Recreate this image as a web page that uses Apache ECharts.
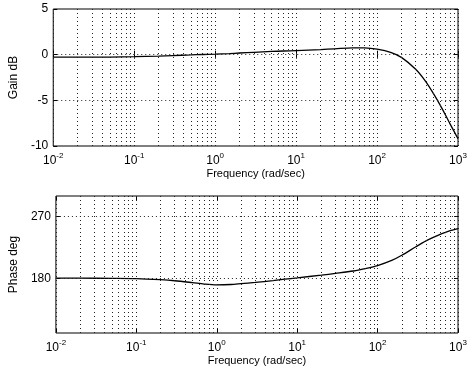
<!DOCTYPE html>
<html>
<head>
<meta charset="utf-8">
<script src="https://cdn.jsdelivr.net/npm/echarts@6/dist/echarts.min.js"></script>
<style>
html,body{margin:0;padding:0;background:#fff;}
#chart{width:474px;height:371px;}
</style>
</head>
<body>
<div id="chart"></div>
<script>
// ---- data ----
const freq = [0.01, 0.02, 0.05, 0.1, 0.2, 0.3, 0.5, 0.7, 1, 1.5, 2, 3, 5, 7, 10, 20, 30, 50, 70, 100, 150, 200, 300, 400, 500, 600, 700, 800, 1000];
const gainDb = [-0.28, -0.28, -0.26, -0.22, -0.16, -0.1, -0.03, 0.02, 0.06, 0.12, 0.18, 0.26, 0.35, 0.4, 0.45, 0.56, 0.64, 0.75, 0.74, 0.6, 0.22, -0.3, -1.6, -2.95, -4.3, -5.5, -6.6, -7.6, -9.2];
const phaseDeg = [180, 180, 179.8, 179.4, 177.8, 176.3, 173.5, 171.5, 170.3, 170.8, 172, 173.8, 176.5, 178.5, 180.5, 184.5, 187, 190.5, 194, 198.5, 206, 213.5, 226, 234.5, 240, 244, 247, 249.5, 252.5];
const decades = [0.01, 0.1, 1, 10, 100, 1000];
const gainTicks = [-10, -5, 0, 5];
const phaseTicks = [180, 270];
const xAxisName = 'Frequency (rad/sec)';
const gainName = 'Gain dB';
const phaseName = 'Phase deg';

// ---- chart ----
const FONT = '"Liberation Sans", Arial, sans-serif';
const dotted = {color: '#222', width: 1, type: [1, 3]};

const vGrid = [];
decades.slice(0, -1).forEach(d => { for (let m = 1; m <= 9; m++) vGrid.push(d * m); });
vGrid.push(decades[decades.length - 1]);

function expLabel(v) {
  const e = Math.round(Math.log10(v));
  return '{b|10}{s|' + e + '}';
}
const richX = {
  b: {fontSize: 12, fontFamily: FONT, color: '#000'},
  s: {fontSize: 8, fontFamily: FONT, color: '#000', padding: [0, 0, 9, 0]}
};
const tickStyle = {show: true, inside: true, length: 4, lineStyle: {color: '#000'}};

function makeX(gi) {
  return {
    type: 'log', logBase: 10, gridIndex: gi,
    min: decades[0], max: decades[decades.length - 1],
    name: xAxisName, nameLocation: 'middle', nameGap: 22,
    nameTextStyle: {fontSize: 11, fontFamily: FONT, color: '#000'},
    axisLine: {show: false},
    axisTick: tickStyle,
    axisLabel: {formatter: expLabel, rich: richX, margin: 6},
    splitLine: {show: false}
  };
}
function makeXTop(gi) {
  return {
    type: 'log', logBase: 10, gridIndex: gi, position: 'top',
    min: decades[0], max: decades[decades.length - 1],
    axisLine: {show: false}, axisTick: tickStyle,
    axisLabel: {show: false}, splitLine: {show: false}
  };
}

function markLines(yVals) {
  const data = vGrid.map(v => ({xAxis: v}));
  yVals.forEach(v => data.push({yAxis: v}));
  return {symbol: 'none', silent: true, animation: false, label: {show: false}, lineStyle: dotted, data: data};
}

const chart = echarts.init(document.getElementById('chart'), null, {renderer: 'canvas'});
chart.setOption({
  animation: false,
  backgroundColor: '#fff',
  grid: [
    {left: 43, top: 9, width: 415, height: 137, show: true, borderColor: '#000', borderWidth: 1, backgroundColor: 'transparent'},
    {left: 43, top: 196, width: 415, height: 137, show: true, borderColor: '#000', borderWidth: 1, backgroundColor: 'transparent'}
  ],
  xAxis: [makeX(0), makeX(1), makeXTop(0), makeXTop(1)],
  yAxis: [
    {
      type: 'value', gridIndex: 0, min: gainTicks[0], max: gainTicks[gainTicks.length - 1], interval: 5,
      name: gainName, nameLocation: 'middle', nameGap: 26,
      nameTextStyle: {fontSize: 12, fontFamily: FONT, color: '#000'},
      axisLine: {show: false},
      axisTick: tickStyle,
      axisLabel: {fontSize: 12, fontFamily: FONT, color: '#000', margin: 5},
      splitLine: {show: false}
    },
    {
      type: 'value', gridIndex: 1, min: 100, max: 300,
      name: phaseName, nameLocation: 'middle', nameGap: 24,
      nameTextStyle: {fontSize: 12, fontFamily: FONT, color: '#000'},
      axisLine: {show: false},
      axisTick: {show: true, inside: true, length: 4, customValues: phaseTicks, lineStyle: {color: '#000'}},
      axisLabel: {fontSize: 12, fontFamily: FONT, color: '#000', margin: 5, customValues: phaseTicks},
      splitLine: {show: false}
    },
    {
      type: 'value', gridIndex: 0, position: 'right', min: gainTicks[0], max: gainTicks[gainTicks.length - 1], interval: 5,
      axisLine: {show: false}, axisTick: tickStyle, axisLabel: {show: false}, splitLine: {show: false}
    },
    {
      type: 'value', gridIndex: 1, position: 'right', min: 100, max: 300,
      axisLine: {show: false},
      axisTick: {show: true, inside: true, length: 4, customValues: phaseTicks, lineStyle: {color: '#000'}},
      axisLabel: {show: false, customValues: phaseTicks}, splitLine: {show: false}
    }
  ],
  series: [
    {
      type: 'line', xAxisIndex: 0, yAxisIndex: 0,
      data: freq.map((f, i) => [f, gainDb[i]]),
      showSymbol: false, smooth: 0.3,
      lineStyle: {color: '#000', width: 1.3},
      markLine: markLines(gainTicks.slice(1, -1))
    },
    {
      type: 'line', xAxisIndex: 1, yAxisIndex: 1,
      data: freq.map((f, i) => [f, phaseDeg[i]]),
      showSymbol: false, smooth: 0.3,
      lineStyle: {color: '#000', width: 1.3},
      markLine: markLines(phaseTicks)
    }
  ]
});
</script>
</body>
</html>
